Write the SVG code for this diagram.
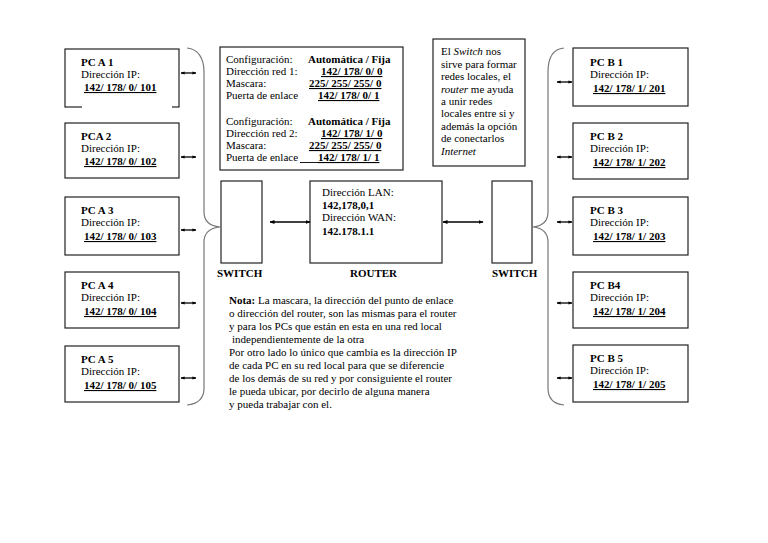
<svg xmlns="http://www.w3.org/2000/svg" width="768" height="543" viewBox="0 0 768 543">
<defs>
<style>
text{font-family:"Liberation Serif","Times New Roman",serif;font-size:11px;fill:#000}
.b{font-weight:bold}
.u{text-decoration:underline}
.i{font-style:italic}
.box{fill:#fff;stroke:#222;stroke-width:1.2}
.brace{fill:none;stroke:#777;stroke-width:1.2}
.con{stroke:#000;stroke-width:1.3;fill:none}
</style>
<marker id="ah" viewBox="0 0 10 10" refX="9" refY="5" markerWidth="5" markerHeight="5" orient="auto-start-reverse" markerUnits="userSpaceOnUse">
<path d="M0,1 L10,5 L0,9 z" fill="#000"/>
</marker>
<marker id="ahs" viewBox="0 0 10 10" refX="9" refY="5" markerWidth="4" markerHeight="4" orient="auto-start-reverse" markerUnits="userSpaceOnUse">
<path d="M0,1 L10,5 L0,9 z" fill="#000"/>
</marker>
</defs>
<rect width="768" height="543" fill="#fff"/>

<g id="pca1"><rect class="box" x="65" y="49" width="114" height="58"/><line x1="82" y1="107" x2="172" y2="107" stroke="#fff" stroke-width="2"/><text x="81" y="66" class="b">PC A 1</text><text x="81" y="78">Dirección IP:</text><text x="84" y="91" class="b u">142/ 178/ 0/ 101</text></g>
<g id="pca2"><rect class="box" x="65" y="123" width="114" height="55"/><text x="81" y="140" class="b">PCA 2</text><text x="81" y="152">Dirección IP:</text><text x="84" y="165" class="b u">142/ 178/ 0/ 102</text></g>
<g id="pca3"><rect class="box" x="65" y="197" width="114" height="58"/><text x="81" y="214" class="b">PC A 3</text><text x="81" y="226">Dirección IP:</text><text x="84" y="240" class="b u">142/ 178/ 0/ 103</text></g>
<g id="pca4"><rect class="box" x="65" y="272" width="114" height="56"/><text x="81" y="289" class="b">PC A 4</text><text x="81" y="301">Dirección IP:</text><text x="84" y="315" class="b u">142/ 178/ 0/ 104</text></g>
<g id="pca5"><rect class="box" x="65" y="346" width="114" height="56"/><text x="81" y="363" class="b">PC A 5</text><text x="81" y="375">Dirección IP:</text><text x="84" y="389" class="b u">142/ 178/ 0/ 105</text></g>

<g id="pcb1"><rect class="box" x="573" y="48" width="115" height="58"/><text x="590" y="66" class="b">PC B 1</text><text x="590" y="78">Dirección IP:</text><text x="593" y="92" class="b u">142/ 178/ 1/ 201</text></g>
<g id="pcb2"><rect class="box" x="573" y="123" width="115" height="56"/><text x="590" y="140" class="b">PC B 2</text><text x="590" y="152">Dirección IP:</text><text x="593" y="166" class="b u">142/ 178/ 1/ 202</text></g>
<g id="pcb3"><rect class="box" x="573" y="197" width="115" height="58"/><text x="590" y="214" class="b">PC B 3</text><text x="590" y="226">Dirección IP:</text><text x="593" y="240" class="b u">142/ 178/ 1/ 203</text></g>
<g id="pcb4"><rect class="box" x="573" y="272" width="115" height="56"/><text x="590" y="289" class="b">PC B4</text><text x="590" y="301">Dirección IP:</text><text x="593" y="315" class="b u">142/ 178/ 1/ 204</text></g>
<g id="pcb5"><rect class="box" x="573" y="345" width="115" height="57"/><text x="590" y="362" class="b">PC B 5</text><text x="590" y="374">Dirección IP:</text><text x="593" y="388" class="b u">142/ 178/ 1/ 205</text></g>

<g id="config"><rect class="box" x="220" y="47" width="183" height="123"/>
<text x="226" y="63">Configuración:</text><text x="308" y="63" class="b">Automática / Fija</text>
<text x="226" y="75">Dirección red 1:</text><text x="321" y="75" class="b u">142/ 178/ 0/ 0</text>
<text x="226" y="87">Mascara:</text><text x="309" y="87" class="b u">225/ 255/ 255/ 0</text>
<text x="226" y="99">Puerta de enlace</text><text x="318" y="99" class="b u">142/ 178/ 0/ 1</text>
<text x="226" y="125">Configuración:</text><text x="308" y="125" class="b">Automática / Fija</text>
<text x="226" y="137">Dirección red 2:</text><text x="321" y="137" class="b u">142/ 178/ 1/ 0</text>
<text x="226" y="149">Mascara:</text><text x="309" y="149" class="b u">225/ 255/ 255/ 0</text>
<text x="226" y="161">Puerta de enlace</text><text x="318" y="161" class="b u">142/ 178/ 1/ 1</text>
<line x1="300" y1="162.5" x2="318" y2="162.5" stroke="#000" stroke-width="0.9"/>
</g>

<g id="info"><rect class="box" x="433" y="39" width="92" height="127"/>
<text x="441" y="55">El <tspan class="i">Switch</tspan> nos</text>
<text x="441" y="68">sirve para formar</text>
<text x="441" y="80">redes locales, el</text>
<text x="441" y="93"><tspan class="i">router</tspan> me ayuda</text>
<text x="441" y="105">a unir redes</text>
<text x="441" y="117">locales entre si y</text>
<text x="441" y="130">además la opción</text>
<text x="441" y="142">de conectarlos</text>
<text x="441" y="155" class="i">Internet</text>
</g>

<g id="switch-a"><rect class="box" x="221" y="181" width="41" height="82"/><text x="217" y="277" class="b">SWITCH</text></g>
<g id="router"><rect class="box" x="310" y="181" width="132" height="82"/>
<text x="322" y="196">Dirección LAN:</text><text x="322" y="209" class="b">142,178,0,1</text>
<text x="322" y="221">Dirección WAN:</text><text x="322" y="235" class="b">142.178.1.1</text>
<text x="350" y="277" class="b">ROUTER</text></g>
<g id="switch-b"><rect class="box" x="492" y="181" width="40" height="82"/><text x="492" y="277" class="b">SWITCH</text></g>

<g id="note">
<text x="229" y="304"><tspan class="b">Nota:</tspan> La  mascara, la dirección del punto de enlace</text>
<text x="229" y="317">o dirección del router, son las mismas para el router</text>
<text x="229" y="330">y para los PCs que están en esta en una red local</text>
<text x="232" y="343">independientemente de la otra</text>
<text x="229" y="356">Por otro lado lo único que cambia es la dirección IP</text>
<text x="229" y="369">de cada PC en su red local para que se diferencie</text>
<text x="229" y="382">de los demás de su red y por consiguiente el router</text>
<text x="229" y="395">le pueda ubicar, por decirlo de alguna manera</text>
<text x="229" y="408">y pueda trabajar con el.</text>
</g>

<g id="connectors">
<path class="brace" d="M187,48 C198,49 204,58 204,72 L204,212 C204,221 210,226 220,227 C210,228 204,233 204,242 L204,388 C204,398 198,404 187,405"/>
<path class="brace" d="M564,48 C553,49 548,58 548,72 L548,212 C548,221 542,226 533,227 C542,228 548,233 548,242 L548,388 C548,398 553,404 564,405"/>
<line class="con" x1="181" y1="73" x2="196" y2="73" marker-start="url(#ahs)" marker-end="url(#ahs)"/>
<line class="con" x1="181" y1="157" x2="196" y2="157" marker-start="url(#ahs)" marker-end="url(#ahs)"/>
<line class="con" x1="181" y1="230" x2="196" y2="230" marker-start="url(#ahs)" marker-end="url(#ahs)"/>
<line class="con" x1="181" y1="303" x2="196" y2="303" marker-start="url(#ahs)" marker-end="url(#ahs)"/>
<line class="con" x1="181" y1="378" x2="196" y2="378" marker-start="url(#ahs)" marker-end="url(#ahs)"/>
<line class="con" x1="557" y1="82" x2="572" y2="82" marker-start="url(#ahs)" marker-end="url(#ahs)"/>
<line class="con" x1="557" y1="157" x2="572" y2="157" marker-start="url(#ahs)" marker-end="url(#ahs)"/>
<line class="con" x1="557" y1="222" x2="572" y2="222" marker-start="url(#ahs)" marker-end="url(#ahs)"/>
<line class="con" x1="557" y1="303" x2="572" y2="303" marker-start="url(#ahs)" marker-end="url(#ahs)"/>
<line class="con" x1="557" y1="378" x2="572" y2="378" marker-start="url(#ahs)" marker-end="url(#ahs)"/>
<line class="con" x1="270" y1="222" x2="310" y2="222" marker-start="url(#ah)" marker-end="url(#ah)"/>
<line class="con" x1="443" y1="222" x2="483" y2="222" marker-start="url(#ah)" marker-end="url(#ah)"/>
</g>
</svg>
